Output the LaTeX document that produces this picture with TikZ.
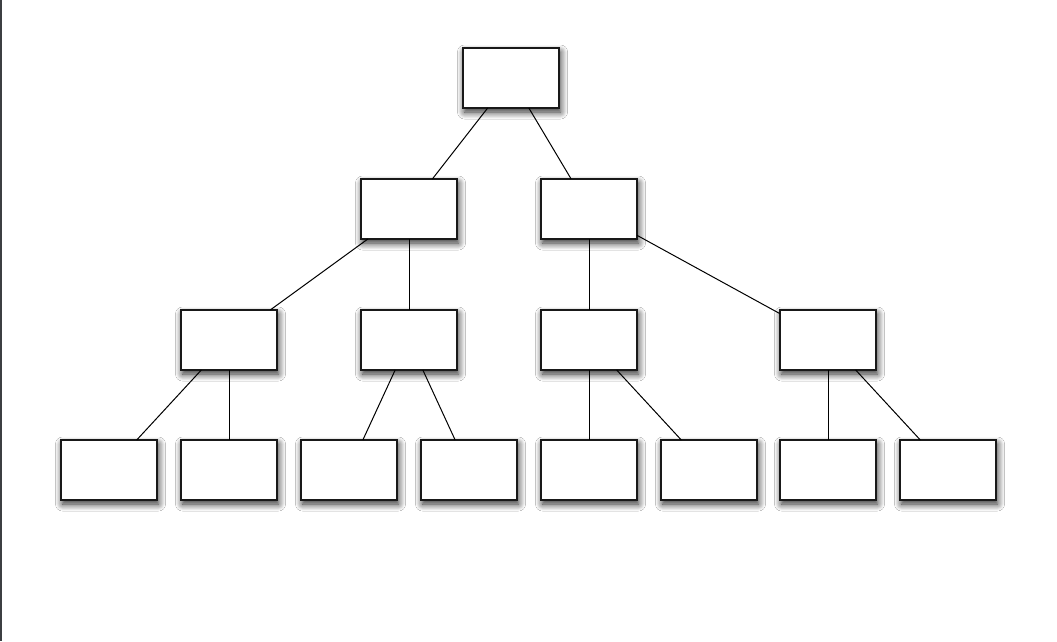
\documentclass[tikz,border=0pt]{standalone}
\usetikzlibrary{shadows.blur}
\definecolor{edgegray}{HTML}{3C3F42}
\begin{document}
\begin{tikzpicture}[x=1pt,y=-1pt,
  box/.style={draw=black!90,line width=1.3pt,fill=white,rectangle,
    minimum width=96pt,minimum height=60pt,inner sep=0pt,outer sep=0pt,
    blur shadow={shadow xshift=1.5pt,shadow yshift=-4pt,shadow blur radius=7pt,shadow blur steps=10,shadow opacity=85}},
  link/.style={draw=black,line width=1pt}]
\fill[white] (0,0) rectangle (1057,641);
\useasboundingbox (0,0) rectangle (1057,641);
\fill[edgegray] (0,0) rectangle (1.6,641);
% level 0
\node[box] (r) at (511,78) {};
% level 1
\node[box] (a) at (409,209) {};
\node[box] (b) at (589,209) {};
% level 2
\node[box] (aa) at (229,340) {};
\node[box] (ab) at (409,340) {};
\node[box] (ba) at (589,340) {};
\node[box] (bb) at (828,340) {};
% level 3
\node[box] (l1) at (109,470) {};
\node[box] (l2) at (229,470) {};
\node[box] (l3) at (349,470) {};
\node[box] (l4) at (469,470) {};
\node[box] (l5) at (589,470) {};
\node[box] (l6) at (709,470) {};
\node[box] (l7) at (828,470) {};
\node[box] (l8) at (948,470) {};
% connectors
\draw[link] (r) -- (a);
\draw[link] (r) -- (b);
\draw[link] (a) -- (aa);
\draw[link] (a) -- (ab);
\draw[link] (b) -- (ba);
\draw[link] (b) -- (bb);
\draw[link] (aa) -- (l1);
\draw[link] (aa) -- (l2);
\draw[link] (ab) -- (l3);
\draw[link] (ab) -- (l4);
\draw[link] (ba) -- (l5);
\draw[link] (ba) -- (l6);
\draw[link] (bb) -- (l7);
\draw[link] (bb) -- (l8);
\end{tikzpicture}
\end{document}
